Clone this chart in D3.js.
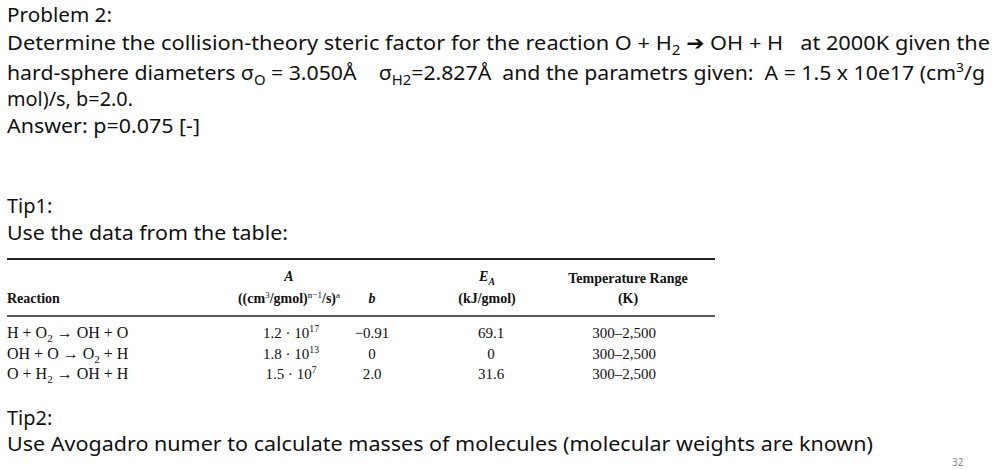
<!DOCTYPE html>
<html><head><meta charset="utf-8">
<script src="https://cdn.jsdelivr.net/npm/d3@7"></script>
<style>body{margin:0;background:#fff}svg{display:block}text{white-space:pre}</style>
</head><body><svg width="996" height="470"></svg>
<script>
const reactions = [
  [["H + O"],["2","sub"],[" → OH + O"]],
  [["OH + O → O"],["2","sub"],[" + H"]],
  [["O + H"],["2","sub"],[" → OH + H"]]
];
const aMant = ["1.2 · 10","1.8 · 10","1.5 · 10"];
const aExp = ["17","13","7"];
const bVals = ["−0.91","0","2.0"];
const eaVals = ["69.1","0","31.6"];
const tRange = ["300–2,500","300–2,500","300–2,500"];

const svg = d3.select("svg");
const sans = "'Noto Sans', sans-serif", serif = "'Liberation Serif', serif";
function line(parts, x, y, size, w, font, anchor) {
  const t = svg.append("text").attr("x", x).attr("y", y).attr("font-family", font||sans)
    .attr("font-size", size).attr("fill", "#111").attr("text-anchor", anchor||"start");
  let off = 0;
  parts.forEach(p => {
    const ts = t.append("tspan").text(p[0]);
    let target = 0;
    if (p[1]==="sub") { ts.attr("font-size", size*0.7); target = size*0.25; }
    if (p[1]==="sup") { ts.attr("font-size", size*0.65); target = -size*0.38; }
    if (p[1]==="arrow") ts.attr("font-family","'DejaVu Sans'").attr("font-weight","bold");
    if (p[1]==="b") ts.attr("font-weight","bold");
    if (p[1]==="bi") ts.attr("font-weight","bold").attr("font-style","italic");
    if (target !== off) { ts.attr("dy", target - off); off = target; }
  });
  if (w) t.attr("textLength", w).attr("lengthAdjust", "spacingAndGlyphs");
  return t;
}
const fs = 20;
line([["Problem 2:"]], 7, 22, fs, 105);
line([["Determine the collision-theory steric factor for the reaction O + H"],["2","sub"],[" "],["➔","arrow"],[" OH + H   at 2000K given the"]], 7, 50, fs, 983);
line([["hard-sphere diameters σ"],["O","sub"],[" = 3.050Å    σ"],["H2","sub"],["=2.827Å  and the parametrs given:  A = 1.5 x 10e17 (cm"],["3","sup"],["/g"]], 7, 80, fs, 978);
line([["mol)/s, b=2.0."]], 7, 106, fs, 126);
line([["Answer: p=0.075 [-]"]], 7, 133, fs, 193);
line([["Tip1:"]], 7, 213, fs);
line([["Use the data from the table:"]], 7, 240, fs, 281);
line([["Tip2:"]], 7, 425, fs);
line([["Use Avogadro numer to calculate masses of molecules (molecular weights are known)"]], 7, 451, fs, 866);
line([["32"]], 952, 466, 10, null, sans).attr("fill","#888");

// table
const tx = d3.scaleLinear().domain([0,1]).range([7,715]);
svg.append("line").attr("x1",tx(0)).attr("x2",tx(1)).attr("y1",259).attr("y2",259).attr("stroke","#222").attr("stroke-width",2);
svg.append("line").attr("x1",tx(0)).attr("x2",tx(1)).attr("y1",316).attr("y2",316).attr("stroke","#222").attr("stroke-width",1.5);
const hs = 14;
line([["Reaction","b"]], 7, 303, hs, null, serif);
line([["A","bi"]], 289, 281, hs, null, serif, "middle");
line([["((cm","b"],["3","sup"],["/gmol)","b"],["n−1","sup"],["/s)","b"],["a","sup"]], 289, 303, hs, null, serif, "middle");
line([["b","bi"]], 372, 303, hs, null, serif, "middle");
line([["E","bi"],["A","sub"]], 487, 281, hs, null, serif, "middle").attr("font-style","italic").attr("font-weight","bold");
line([["(kJ/gmol)","b"]], 487, 303, hs, null, serif, "middle");
line([["Temperature Range","b"]], 628, 283, hs, null, serif, "middle");
line([["(K)","b"]], 628, 303, hs, null, serif, "middle");
const ry = d3.scalePoint().domain([0,1,2]).range([338,379]);
reactions.forEach((r,i)=>{
  line(r, 7, ry(i), 16, null, serif);
  line([[aMant[i]],[aExp[i],"sup"]], 291, ry(i), 15, null, serif, "middle");
  line([[bVals[i]]], 372, ry(i), 15, null, serif, "middle");
  line([[eaVals[i]]], 491, ry(i), 15, null, serif, "middle");
  line([[tRange[i]]], 624, ry(i), 15, null, serif, "middle");
});
</script></body></html>
